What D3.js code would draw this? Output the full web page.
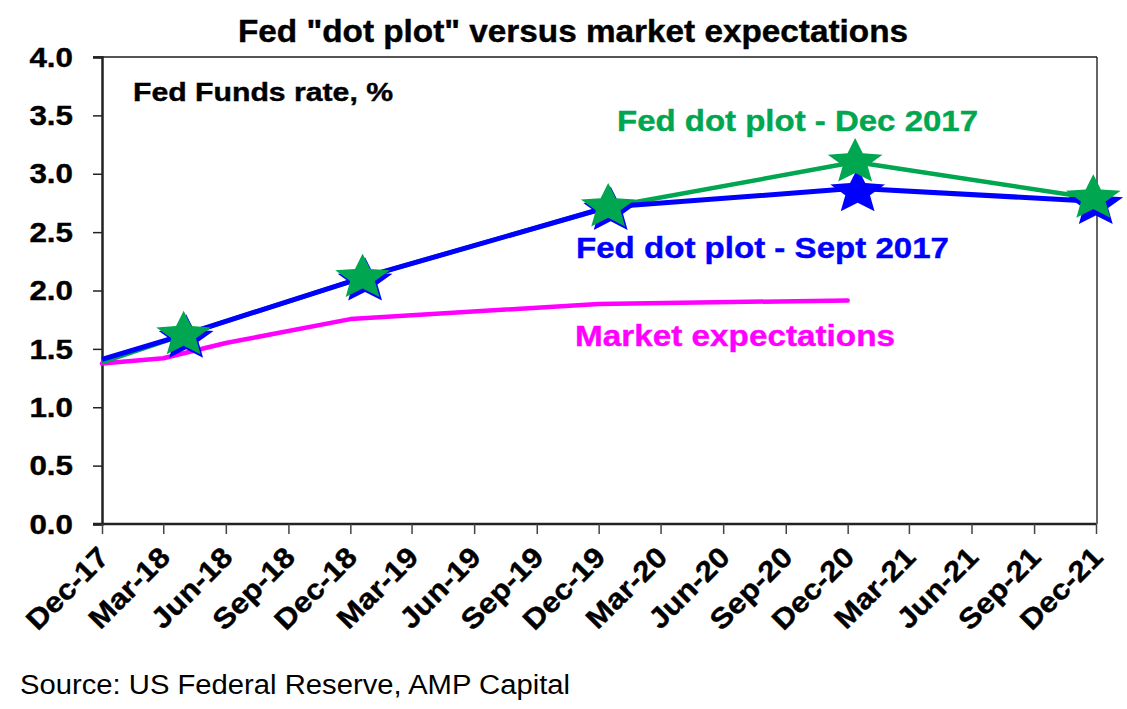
<!DOCTYPE html>
<html>
<head>
<meta charset="utf-8">
<script src="https://cdnjs.cloudflare.com/ajax/libs/d3/7.8.5/d3.min.js"></script>
<style>
  html, body { margin: 0; padding: 0; background: #fff; }
  svg { display: block; font-family: "Liberation Sans", Arial, Helvetica, sans-serif; }
</style>
</head>
<body>
<svg id="chart" width="1127" height="709"></svg>
<script>
// ---------------- data ----------------
const tickLabels = ["Dec-17","Mar-18","Jun-18","Sep-18","Dec-18","Mar-19","Jun-19","Sep-19","Dec-19",
                    "Mar-20","Jun-20","Sep-20","Dec-20","Mar-21","Jun-21","Sep-21","Dec-21"];
const tickDates = ["2017-12-01","2018-03-01","2018-06-01","2018-09-01","2018-12-01","2019-03-01","2019-06-01",
                   "2019-09-01","2019-12-01","2020-03-01","2020-06-01","2020-09-01","2020-12-01","2021-03-01",
                   "2021-06-01","2021-09-01","2021-12-01"];
const yTicks = [0, 0.5, 1.0, 1.5, 2.0, 2.5, 3.0, 3.5, 4.0];

const marketDates  = ["2017-12-01","2018-03-01","2018-06-01","2018-12-01","2019-12-01","2020-12-01"];
const marketValues = [1.375, 1.42, 1.55, 1.755, 1.885, 1.915];

const dotDates   = ["2017-12-01","2018-03-31","2018-12-19","2019-12-15","2020-12-12","2021-11-27"];
const septValues = [1.41, 1.62, 2.11, 2.715, 2.875, 2.765];
const decValues  = [1.385, 1.62, 2.11, 2.715, 3.10, 2.79];
const hasStar    = [false, true, true, true, true, true];

const title = 'Fed "dot plot" versus market expectations';
const yTitle = "Fed Funds rate, %";
const labelDec = "Fed dot plot - Dec 2017";
const labelSept = "Fed dot plot - Sept 2017";
const labelMarket = "Market expectations";
const source = "Source: US Federal Reserve, AMP Capital";

// ---------------- setup ----------------
const parse = d3.timeParse("%Y-%m-%d");
const GREEN = "#00A650", BLUE = "#0000FF", PINK = "#FF00FF";
const STRETCH = 1.1;

const svg = d3.select("#chart");
const x = d3.scaleTime().domain([parse(tickDates[0]), parse(tickDates[tickDates.length-1])]).range([102, 1096]);
const y = d3.scaleLinear().domain([0, 4]).range([524, 57]);

function stretch(sel) {
  sel.each(function() {
    const len = this.getComputedTextLength();
    d3.select(this).attr("textLength", len * STRETCH).attr("lengthAdjust", "spacingAndGlyphs");
  });
}

// frame: top and right border
svg.append("line").attr("x1", 93).attr("x2", 1097).attr("y1", y(4)).attr("y2", y(4))
  .attr("stroke", "#555").attr("stroke-width", 2);
svg.append("line").attr("x1", 1097).attr("x2", 1097).attr("y1", y(4)).attr("y2", y(0))
  .attr("stroke", "#111").attr("stroke-width", 1.3);

// y axis
const yAxis = svg.append("g").attr("transform", `translate(${x.range()[0]},0)`)
  .call(d3.axisLeft(y).tickValues(yTicks).tickFormat(d3.format(".1f")).tickSize(9).tickPadding(20));
yAxis.select(".domain").attr("stroke", "#222").attr("stroke-width", 2.5);
yAxis.selectAll(".tick line").attr("stroke", "#222").attr("stroke-width", 1.5);
yAxis.selectAll(".tick text").attr("font-size", 28.5).attr("font-weight", "bold").attr("fill", "#000")
  .attr("stroke", "#000").attr("stroke-width", 0.4)
  .attr("font-family", "Liberation Sans, Arial, sans-serif").call(stretch);

// x axis
const xAxis = svg.append("g").attr("transform", `translate(0,${y(0)})`)
  .call(d3.axisBottom(x).tickValues(tickDates.map(parse)).tickFormat((d, i) => tickLabels[i]).tickSize(10));
xAxis.select(".domain").attr("stroke", "#222").attr("stroke-width", 2.5).attr("d", `M93,0H${x.range()[1]}`);
xAxis.selectAll(".tick line").attr("stroke", "#444").attr("stroke-width", 1.5);
xAxis.selectAll(".tick text")
  .attr("font-size", 28.5).attr("font-weight", "bold").attr("fill", "#000")
  .attr("stroke", "#000").attr("stroke-width", 0.4)
  .attr("font-family", "Liberation Sans, Arial, sans-serif")
  .attr("text-anchor", "end").attr("y", 0).attr("dy", 0)
  .attr("transform", "translate(8,35) rotate(-45)")
  .call(stretch);

// lines
const line = d3.line().x(d => x(d[0])).y(d => y(d[1]));
const zip = (ds, vs) => ds.map((d, i) => [parse(d), vs[i]]);

svg.append("path").datum(zip(marketDates, marketValues)).attr("d", line)
  .attr("fill", "none").attr("stroke", PINK).attr("stroke-width", 4.5).attr("stroke-linejoin", "round").attr("stroke-linecap", "round");
svg.append("path").datum(zip(dotDates, decValues)).attr("d", line)
  .attr("fill", "none").attr("stroke", GREEN).attr("stroke-width", 4.5).attr("stroke-linejoin", "round");
svg.append("path").datum(zip(dotDates, septValues)).attr("d", line)
  .attr("fill", "none").attr("stroke", BLUE).attr("stroke-width", 5).attr("stroke-linejoin", "round");

// stars
function starPath(R, ratio, sx) {
  const pts = [];
  for (let k = 0; k < 10; k++) {
    const a = -Math.PI / 2 + k * Math.PI / 5;
    const r = k % 2 === 0 ? R : R * ratio;
    pts.push([Math.cos(a) * r * sx, Math.sin(a) * r]);
  }
  return "M" + pts.map(p => p[0].toFixed(2) + "," + p[1].toFixed(2)).join("L") + "Z";
}
const star = starPath(24, 0.45, 1.2);
// blue markers carry a slight down-right shadow offset as in the original
svg.append("g").selectAll("path").data(zip(dotDates, septValues).filter((d, i) => hasStar[i])).join("path")
  .attr("d", star).attr("transform", d => `translate(${x(d[0]) + 2.5},${y(d[1]) + 3.5})`).attr("fill", BLUE);
svg.append("g").selectAll("path").data(zip(dotDates, decValues).filter((d, i) => hasStar[i])).join("path")
  .attr("d", star).attr("transform", d => `translate(${x(d[0])},${y(d[1])})`).attr("fill", GREEN);

// texts
function txt(s, xx, yy, size, color, weight) {
  const t = svg.append("text").attr("x", xx).attr("y", yy).attr("font-size", size)
    .attr("font-weight", weight || "bold").attr("fill", color).text(s);
  if ((weight || "bold") === "bold") t.attr("stroke", color).attr("stroke-width", 0.4);
  return t;
}
txt(title, 238, 42, 30.5, "#000").attr("textLength", 670).attr("lengthAdjust", "spacingAndGlyphs");
txt(yTitle, 133, 101, 25, "#000").attr("textLength", 260).attr("lengthAdjust", "spacingAndGlyphs");
txt(labelDec, 617, 131, 29.5, GREEN).attr("textLength", 361).attr("lengthAdjust", "spacingAndGlyphs");
txt(labelSept, 576, 258, 29.5, BLUE).attr("textLength", 373).attr("lengthAdjust", "spacingAndGlyphs");
txt(labelMarket, 575, 346, 29.5, PINK).attr("textLength", 320).attr("lengthAdjust", "spacingAndGlyphs");
txt(source, 20, 694, 27, "#000", "normal").attr("textLength", 550).attr("lengthAdjust", "spacingAndGlyphs");
</script>
</body>
</html>
